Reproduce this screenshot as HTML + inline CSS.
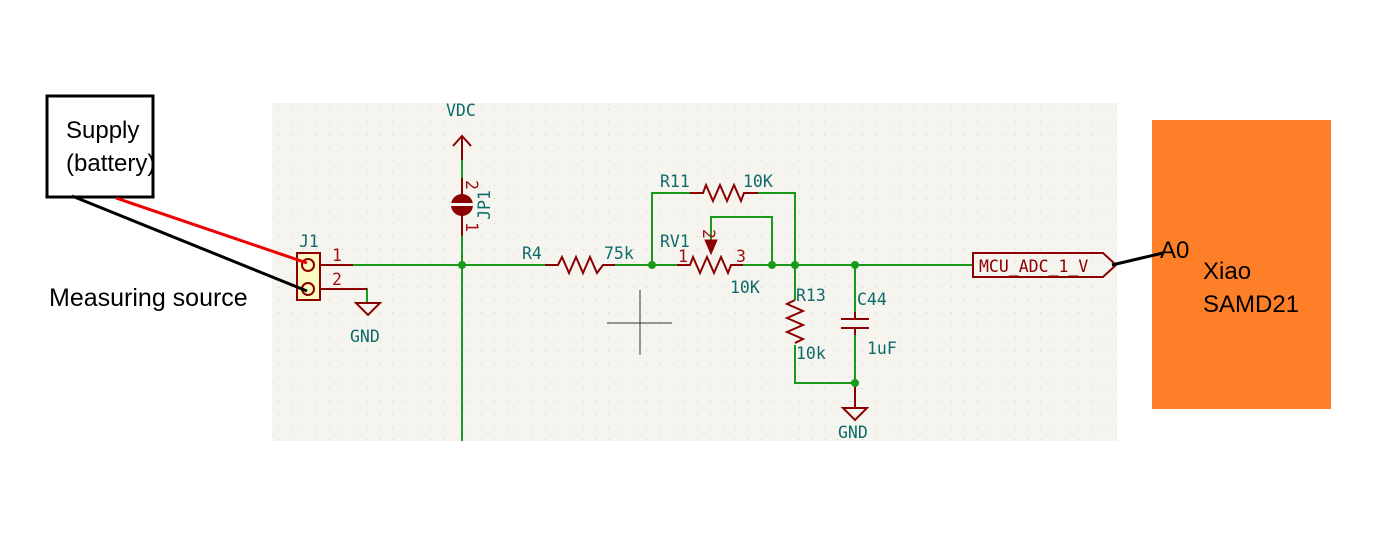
<!DOCTYPE html>
<html><head><meta charset="utf-8"><style>
html,body{margin:0;padding:0;background:#fff;}
svg{display:block}
.m{font-family:"DejaVu Sans Mono","Liberation Mono",monospace;font-size:16.5px;fill:#0e6b6b}
.r{font-family:"DejaVu Sans Mono","Liberation Mono",monospace;font-size:16.5px;fill:#a01010}
.s{font-family:"Liberation Sans",sans-serif;font-size:24px;fill:#000}
</style></head><body>
<svg width="1380" height="556" viewBox="0 0 1380 556">
<defs><pattern id="g" x="272" y="103" width="12.7" height="12.7" patternUnits="userSpaceOnUse"><rect x="6" y="6" width="1" height="1" fill="#c8c6bf"/></pattern></defs>
<rect x="272" y="103" width="845" height="338" fill="#f5f4ef"/>
<rect x="272" y="103" width="845" height="338" fill="url(#g)"/>
<g fill="none" stroke-width="2">
<g stroke="#1a9a1a">
<path d="M353 265H545M615 265H677M743 265H973"/>
<path d="M353 289H367V303"/>
<path d="M462 160V178M462 236V441"/>
<path d="M652 265V193H690M758 193H795V265"/>
<path d="M772 265V217H711V240"/>
<path d="M795 265V300M795 345V383H855M855 265V312M855 335V383"/>
</g>
<g stroke="#8b0000">
<path d="M320 265H353M320 289H367"/>
<path d="M356 303H380L368 315Z"/>
<path d="M453 146L462 136L471 146M462 136V160"/>
<path d="M462 178V195M462 215V236"/>
<path d="M545 265H558l4-8 7 16 7-16 7 16 7-16 7 16 6-8H615"/>
<path d="M690 193H703l3-8 7 16 7-16 7 16 7-16 7 16 3-8H758"/>
<path d="M677 265H690l3-8 7 16 7-16 7 16 7-16 7 16 3-8H743"/>
<path d="M795 300l-8 4 16 7-16 7 16 7-16 7 16 7-8 4"/>
<path d="M855 312V319M841 319H869M841 328H869M855 328V335"/>
<path d="M855 383V408M843 408H867L855 420Z"/>
<path d="M973 253H1103L1116 265L1103 277H973Z"/>
</g>
<rect x="297" y="253" width="23" height="47" fill="#fdfbc0" stroke="#8b0000"/>
</g>
<circle cx="308" cy="265" r="6" fill="none" stroke="#8b0000" stroke-width="2"/>
<circle cx="308" cy="289" r="6" fill="none" stroke="#8b0000" stroke-width="2"/>
<path d="M705 240H717L711 254Z" fill="#8b0000" stroke="#8b0000" stroke-width="1"/>
<circle cx="462" cy="205" r="11" fill="#8b0000"/>
<rect x="448" y="203" width="28" height="3" fill="#f5f4ef"/>
<g fill="#1a9a1a"><circle cx="462" cy="265" r="4"/><circle cx="652" cy="265" r="4"/><circle cx="772" cy="265" r="4"/><circle cx="795" cy="265" r="4"/><circle cx="855" cy="265" r="4"/><circle cx="855" cy="383" r="4"/></g>
<path d="M607 323H672M640 290V355" stroke="#333" stroke-width="1"/>
<text class="m" x="446" y="116">VDC</text>
<text class="r" x="466" y="180" transform="rotate(90 466 180)">2</text>
<text class="m" x="490" y="205" transform="rotate(-90 490 205)" text-anchor="middle">JP1</text>
<text class="r" x="466" y="222" transform="rotate(90 466 222)">1</text>
<text class="m" x="299" y="247">J1</text>
<text class="r" x="332" y="261">1</text>
<text class="r" x="332" y="285">2</text>
<text class="m" x="350" y="342">GND</text>
<text class="m" x="522" y="259">R4</text>
<text class="m" x="604" y="259">75k</text>
<text class="m" x="660" y="187">R11</text>
<text class="m" x="743" y="187">10K</text>
<text class="m" x="660" y="247">RV1</text>
<text class="r" x="678" y="262">1</text>
<text class="r" x="736" y="262">3</text>
<text class="r" x="703" y="229" transform="rotate(90 703 229)">2</text>
<text class="m" x="730" y="293">10K</text>
<text class="m" x="796" y="301">R13</text>
<text class="m" x="796" y="359">10k</text>
<text class="m" x="857" y="305">C44</text>
<text class="m" x="867" y="354">1uF</text>
<text class="m" x="838" y="438">GND</text>
<text x="979" y="272" style="font-family:'DejaVu Sans Mono',monospace;font-size:16.5px;fill:#8b0000">MCU_ADC_1_V</text>
<rect x="1152" y="120" width="179" height="289" fill="#fd7f27"/>
<rect x="47" y="96" width="106" height="101" fill="none" stroke="#000" stroke-width="3"/>
<text class="s" x="66" y="138">Supply</text>
<text class="s" x="66" y="171">(battery)</text>
<line x1="116" y1="198" x2="307" y2="263" stroke="#e00" stroke-width="3"/>
<line x1="72" y1="196" x2="307" y2="291" stroke="#000" stroke-width="3"/>
<text class="s" x="49" y="306" style="font-size:25px">Measuring source</text>
<line x1="1112" y1="265" x2="1163" y2="253" stroke="#000" stroke-width="3"/>
<text class="s" x="1160" y="258">A0</text>
<text class="s" x="1203" y="279">Xiao</text>
<text class="s" x="1203" y="312">SAMD21</text>
</svg>
</body></html>
